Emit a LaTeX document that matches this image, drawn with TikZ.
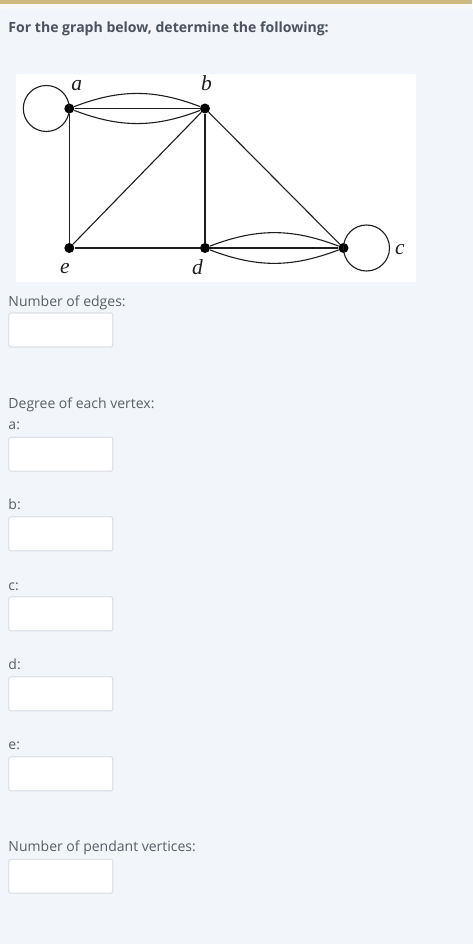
\documentclass[tikz,border=0pt]{standalone}
\usepackage{fontspec}
\setmainfont{Open Sans}
\newfontfamily\titlefont{Open Sans}
\newfontfamily\labfont{Liberation Serif}
\definecolor{pagebg}{RGB}{248,248,248}
\definecolor{goldbar}{RGB}{206,186,128}
\definecolor{panelbg}{RGB}{242,245,249}
\definecolor{titlecol}{RGB}{75,83,96}
\definecolor{formcol}{RGB}{88,95,106}
\definecolor{boxcol}{RGB}{223,227,231}
\definecolor{edgecol}{RGB}{30,30,30}
\tikzset{
  vtx/.style={circle, fill=black, inner sep=0pt, minimum size=10pt},
  edge/.style={draw=edgecol, line width=1.1pt},
  vlab/.style={font=\labfont\itshape\fontsize{21.5}{21.5}\selectfont, text=edgecol, inner sep=0pt},
  flabel/.style={anchor=base west, inner sep=0pt, text=formcol, font=\fontsize{14}{17}\selectfont},
  inbox/.style={draw=boxcol, fill=white, line width=1.3pt, rounded corners=2pt, minimum width=104pt, minimum height=34pt, inner sep=0pt}
}
\begin{document}
\begin{tikzpicture}[x=1pt,y=-1pt]
\useasboundingbox (0,0) rectangle (472,944);
\fill[pagebg] (0,0) rectangle (472,944);
\fill[goldbar] (0,0) rectangle (472,3.6);
\fill[panelbg, rounded corners=4pt] (0,9) rectangle (480,960);
\node[anchor=base west, inner sep=0pt, text=titlecol, font=\titlefont\bfseries\fontsize{14.05}{17}\selectfont] (title) at (8.3,32.3) {For the graph below, determine the following:};
% graph image
\fill[white] (16,74) rectangle (416,282);
\node[vtx] (a) at (69.3,108.5) {};
\node[vtx] (b) at (205,108.5) {};
\node[vtx] (e) at (69.3,248) {};
\node[vtx] (d) at (205,248) {};
\node[vtx] (c) at (343.5,248) {};
\draw[edge] (a) -- (b);
\draw[edge] (a) to[bend left=21] (b);
\draw[edge] (a) to[bend right=21] (b);
\draw[edge] (a) -- (e);
\draw[edge] (b) -- (d);
\draw[edge] (e) -- (d);
\draw[edge] (e) -- (b);
\draw[edge] (b) -- (c);
\draw[edge] (d) -- (c);
\draw[edge] (d) to[bend left=21] (c);
\draw[edge] (d) to[bend right=21] (c);
\draw[edge] (a.center) arc[start angle=0, end angle=360, radius=23];
\draw[edge] (c.center) arc[start angle=180, end angle=540, radius=23];
\node[vlab] (la) at (76.7,85.5) {a};
\node[vlab] (lb) at (206.5,83.5) {b};
\node[vlab] (le) at (65,268.5) {e};
\node[vlab] (ld) at (197.5,267) {d};
\node[vlab] (lc) at (400,249.5) {c};
% form
\node[flabel] (t1) at (8.3,306) {Number of edges:};
\node[inbox] (box1) at (60.8,330) {};
\node[flabel] (t2) at (8.3,408.5) {Degree of each vertex:};
\node[flabel] (t3) at (8.3,429.5) {a:};
\node[inbox] (box2) at (60.8,454.2) {};
\node[flabel] (t4) at (8.3,509.5) {b:};
\node[inbox] (box3) at (60.8,533.8) {};
\node[flabel] (t5) at (8.3,590) {c:};
\node[inbox] (box4) at (60.8,613.8) {};
\node[flabel] (t6) at (8.3,669.5) {d:};
\node[inbox] (box5) at (60.8,693.8) {};
\node[flabel] (t7) at (8.3,749.5) {e:};
\node[inbox] (box6) at (60.8,773.8) {};
\node[flabel] (t8) at (8.3,851.7) {Number of pendant vertices:};
\node[inbox] (box7) at (60.8,876.2) {};
\end{tikzpicture}
\end{document}
